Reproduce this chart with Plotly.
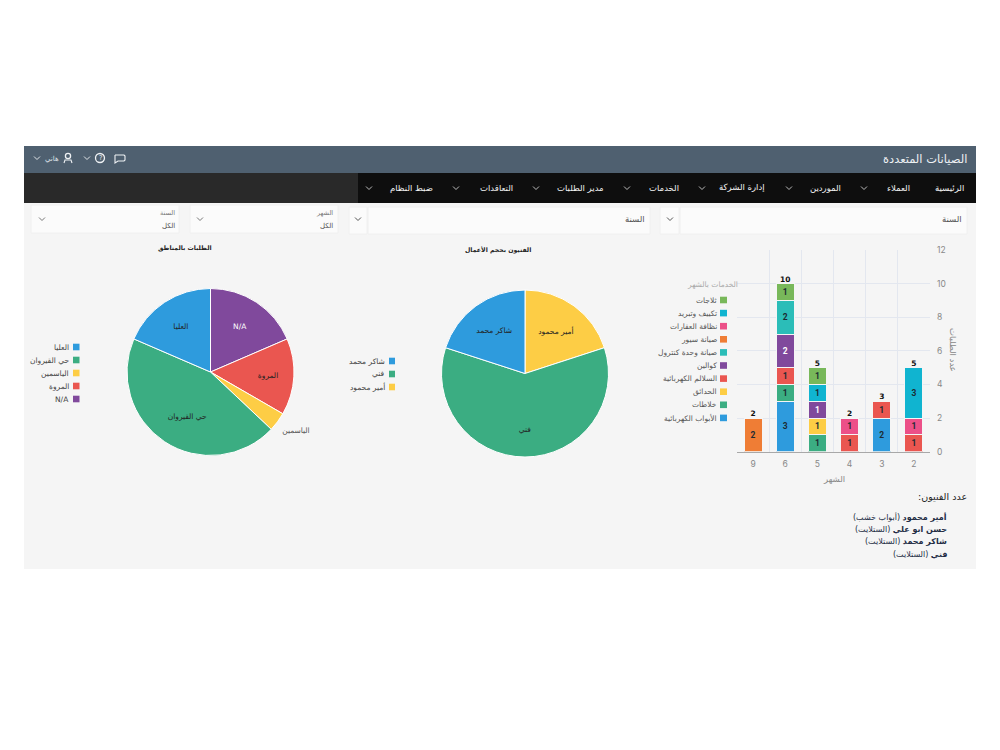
import plotly.graph_objects as go

# ---------- data ----------
months = ["9", "6", "5", "4", "3", "2"]
doors = [None, 3, None, None, 2, None]
mixers = [None, 1, 1, None, None, None]
gardens = [None, None, 1, None, None, None]
escalators = [None, 1, None, 1, 1, 1]
locks = [None, 2, 1, None, None, None]
controls = [None, 2, None, None, None, None]
belts = [2, None, None, None, None, None]
cleaning = [None, None, None, 1, None, 1]
hvac = [None, None, 1, None, None, 3]
fridges = [None, 1, 1, None, None, None]
month_totals = [2, 10, 5, 2, 3, 5]

service_names = ["الأبواب الكهربائية", "خلاطات", "الحدائق", "السلالم الكهربائية", "كوالين",
                 "صيانة وحدة كنترول", "صيانة سيور", "نظافة العقارات", "تكييف وتبريد", "ثلاجات"]
service_values = [doors, mixers, gardens, escalators, locks, controls, belts, cleaning, hvac, fridges]
service_colors = ["#2e9bdd", "#3bad82", "#fdcd45", "#ea5650", "#80499c",
                  "#2bbdb8", "#ef7d35", "#ec5088", "#10b4d0", "#78b85a"]

tech_labels = ["أمير محمود", "فني", "شاكر محمد"]
tech_values = [1, 3, 1]
tech_colors = ["#fdcd45", "#3bad82", "#2e9bdd"]

region_labels = ["N/A", "المروة", "الياسمين", "حي القيروان", "العليا"]
region_values = [5, 4, 1, 12, 5]
region_colors = ["#80499c", "#ea5650", "#fdcd45", "#3bad82", "#2e9bdd"]

nav_items = ["الرئيسية", "العملاء", "الموردين", "إدارة الشركة", "الخدمات", "مدير الطلبات", "التعاقدات", "ضبط النظام"]
tech_details = [("أمير محمود", "أبواب خشب"), ("حسن ابو علي", "الستلايت"),
                ("شاكر محمد", "الستلايت"), ("فني", "الستلايت")]

FONT = "DejaVu Sans"
X = lambda x: x / 1000
Y = lambda y: 1 - y / 750
shapes, notes = [], []


def rect(x0, y0, x1, y1, fill, line=None):
    shapes.append(dict(type="rect", xref="paper", yref="paper", x0=X(x0), x1=X(x1), y0=Y(y0), y1=Y(y1),
                       fillcolor=fill, line=dict(color=line or fill, width=1 if line else 0), layer="below"))


def path(points, color, width=1, close=False):
    d = "M" + "L".join(f"{X(a):.5f},{Y(b):.5f}" for a, b in points) + ("Z" if close else "")
    shapes.append(dict(type="path", xref="paper", yref="paper", path=d, line=dict(color=color, width=width), layer="below"))


def chevron(x, y, color="#777777"):
    path([(x - 3, y - 1.5), (x, y + 1.5), (x + 3, y - 1.5)], color, 1)


def circle(x, y, r, color, width=1.3):
    shapes.append(dict(type="circle", xref="paper", yref="paper", x0=X(x - r), x1=X(x + r), y0=Y(y + r), y1=Y(y - r),
                       line=dict(color=color, width=width), layer="below"))


def text(x, y, s, size=9, color="#444444", anchor="right", angle=0):
    notes.append(dict(xref="paper", yref="paper", x=X(x), y=Y(y), text=s, showarrow=False, xanchor=anchor,
                      yanchor="middle", textangle=angle, font=dict(family=FONT, size=size, color=color),
                      borderpad=0, borderwidth=0))


# ---------- page chrome ----------
rect(24, 146, 976, 569, "#f5f5f5")
rect(24, 146, 976, 173, "#4f6070")
rect(24, 173, 358, 203, "#292929")
rect(358, 173, 976, 203, "#0e0e0e")
text(967, 159, "الصيانات المتعددة", 11.5, "#eef1f4")

nav_right = [964, 910, 841, 765, 679, 604, 513, 433]
nav_chev = [None, 864, 789, 702, 627, 536, 456, 369]
for label, rx, cx in zip(nav_items, nav_right, nav_chev):
    text(rx, 188, label, 8.5, "#f2f2f2")
    if cx:
        chevron(cx, 188, "#bbbbbb")

# top-left icons
path([(115, 155), (124, 155), (125, 156), (125, 160), (124, 161), (118, 161), (115, 163), (115, 155)], "#eef1f4", 1.1)
circle(100, 158, 4.5, "#eef1f4")
text(100, 158, "?", 6.5, "#eef1f4", "center")
chevron(87, 158, "#e0e4e8")
circle(68, 156, 2.6, "#eef1f4")
path([(64, 163), (65, 160), (71, 160), (72, 163)], "#eef1f4", 1.1)
text(59, 158.5, "هاني", 7, "#dfe4e8")
chevron(37, 158, "#e0e4e8")

# filters
rect(680, 207, 967, 234, "#fbfbfb", "#f0f0f0")
rect(660, 207, 679, 234, "#fbfbfb", "#f0f0f0")
chevron(670, 219, "#555555")
text(962, 219, "السنة", 8.5, "#555555")
rect(368, 207, 650, 234, "#fbfbfb", "#f0f0f0")
rect(349, 207, 367, 234, "#fbfbfb", "#f0f0f0")
chevron(358, 219, "#555555")
text(645, 219, "السنة", 8.5, "#555555")
rect(190, 205, 338, 233, "#fbfbfb", "#f0f0f0")
text(333, 213, "الشهر", 6.5, "#777777")
text(333, 226, "الكل", 7, "#555555")
chevron(200, 219)
rect(31, 205, 179, 233, "#fbfbfb", "#f0f0f0")
text(175, 213, "السنة", 6.5, "#777777")
text(175, 226, "الكل", 7, "#555555")
chevron(42, 219)

# ---------- bars ----------
fig = go.Figure()
for name, vals, col in zip(service_names, service_values, service_colors):
    fig.add_bar(x=months, y=vals, name=name, showlegend=False, marker=dict(color=col, line=dict(color="#f5f5f5", width=1)),
                text=vals, textposition="inside", insidetextanchor="middle", textangle=0, constraintext="none",
                textfont=dict(family="Roboto", size=8.5, weight="bold", color="#ffffff" if col == "#80499c" else "#1c2b33"))
fig.add_scatter(x=months, y=month_totals, mode="text", text=month_totals, textposition="top center", showlegend=False,
                textfont=dict(family="DejaVu Sans", size=7.5, color="#111111", weight="bold"), cliponaxis=False)

# bar legend
text(738, 284, "الخدمات بالشهر", 7.5, "#aaaaaa")
for i, (name, col) in enumerate(zip(reversed(service_names), reversed(service_colors))):
    yy = 300 + i * 13.1
    rect(720, yy - 3.3, 727, yy + 3.3, col)
    text(717, yy, name, 7.5, "#555555")
text(953, 350, "عدد الطلبات", 8.5, "#888888", "center", 90)
text(834, 478.5, "الشهر", 8.5, "#888888", "center")

# ---------- pies ----------
blank = "&nbsp;<br>"
tech_text = [tech_labels[0], blank * 3 + tech_labels[1], tech_labels[2]]
region_text = [region_labels[0], region_labels[1], blank + region_labels[2], blank * 2 + region_labels[3], region_labels[4]]
fig.add_pie(labels=tech_labels, values=tech_values, sort=False, direction="clockwise", rotation=0,
            domain=dict(x=[X(525 - 83.5), X(525 + 83.5)], y=[Y(373.5 + 83.5), Y(373.5 - 83.5)]),
            marker=dict(colors=tech_colors, line=dict(color="#ffffff", width=1)), text=tech_text, textinfo="text",
            textposition="inside", insidetextorientation="horizontal", showlegend=False,
            textfont=dict(family=FONT, size=7.5, color="#222222"))
fig.add_pie(labels=region_labels, values=region_values, sort=False, direction="clockwise", rotation=0,
            domain=dict(x=[X(210.5 - 83.5), X(210.5 + 83.5)], y=[Y(372 + 83.5), Y(372 - 83.5)]),
            marker=dict(colors=region_colors, line=dict(color="#ffffff", width=1)), text=region_text, textinfo="text",
            textposition=["inside", "inside", "outside", "inside", "inside"], insidetextorientation="horizontal",
            showlegend=False, automargin=False,
            textfont=dict(family=FONT, size=7.5, color=["#ffffff", "#222222", "#555555", "#222222", "#222222"]))

text(498, 249.5, "<b>الفنيون بحجم الأعمال</b>", 6.2, "#222222", "center")
text(185, 248, "<b>الطلبات بالمناطق</b>", 6.2, "#222222", "center")

for i, (name, col) in enumerate(zip(reversed(tech_labels), reversed(tech_colors))):
    yy = 361 + i * 13
    rect(389, yy - 3.3, 395, yy + 3.3, col)
    text(385, yy, name, 7.5, "#444444")
for i, (name, col) in enumerate(zip(reversed(region_labels), reversed(region_colors))):
    yy = 347 + i * 13
    rect(73, yy - 3.3, 79.5, yy + 3.3, col)
    text(69, yy, name, 7.5, "#444444")

# ---------- footer list ----------
text(967, 497, "\u200fعدد الفنيون:\u200f", 9.5, "#222222")
for i, (who, spec) in enumerate(tech_details):
    text(947, 517 + i * 12.4, f"\u200f<b>{who}</b> ({spec})\u200f", 8, "#222c44")

fig.update_layout(
    width=1000, height=750, margin=dict(l=0, r=0, t=0, b=0, autoexpand=False), autosize=False,
    paper_bgcolor="#ffffff", plot_bgcolor="rgba(0,0,0,0)", barmode="stack", bargap=0.44,
    font=dict(family=FONT), shapes=shapes, annotations=notes,
    xaxis=dict(domain=[X(737), X(930)], type="category", categoryorder="array", categoryarray=months,
               tickson="boundaries", showgrid=True, gridcolor="#e3e7ef", gridwidth=1, ticks="", ticklabelstandoff=4,
               showline=True, linecolor="#a8a8a8", linewidth=1.3, tickfont=dict(family="Inter", size=8.5, color="#888888")),
    yaxis=dict(domain=[Y(451.7), Y(250)], side="right", range=[0, 12], tickvals=[0, 2, 4, 6, 8, 10, 12],
               showgrid=True, gridcolor="#e3e7ef", gridwidth=1, zeroline=False, ticks="", ticklabelstandoff=6,
               tickfont=dict(family="Inter", size=8.5, color="#888888")),
)
fig.write_html("out.html", config={"displayModeBar": False}, post_script="document.body.style.margin='0';")
